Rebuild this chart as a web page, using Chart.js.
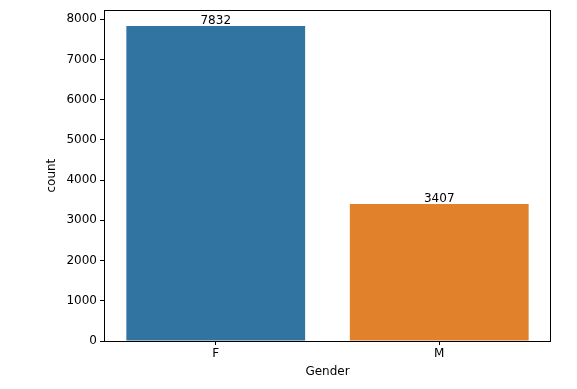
<!DOCTYPE html>
<html>
<head>
<meta charset="utf-8">
<script src="https://cdn.jsdelivr.net/npm/chart.js@4"></script>
<style>
  html, body { margin: 0; padding: 0; background: #fff; }
  canvas { display: block; }
</style>
</head>
<body>
<canvas id="myChart" width="577" height="389"></canvas>
<script>
Chart.defaults.color = '#000'
Chart.defaults.font.family = 'DejaVu Sans'
Chart.defaults.font.size = 12

var categories = ['F', 'M']
var counts = [7832, 3407]
var barColors = ['#3274a1', '#e1812c']
var yTicks = [0, 1000, 2000, 3000, 4000, 5000, 6000, 7000, 8000]

// seaborn pads the top by 5%
var yMax = Math.max(...counts) * 1.05

// box around the plot + count labels on bars
var framePlugin = {
    id: 'frame',
    afterDraw: (chart) => {
        let ctx = chart.ctx
        let a = chart.chartArea
        ctx.save()
        ctx.strokeStyle = '#000'
        ctx.lineWidth = 1
        ctx.strokeRect(Math.round(a.left) + 0.5, Math.round(a.top) + 0.5,
            Math.round(a.right - a.left) - 1, Math.round(a.bottom - a.top))
        ctx.font = '12px DejaVu Sans'
        ctx.fillStyle = '#000'
        ctx.textAlign = 'center'
        ctx.textBaseline = 'alphabetic'
        chart.getDatasetMeta(0).data.forEach((bar, i) => {
            ctx.fillText(String(counts[i]), bar.x, bar.y - 2)
        })
        ctx.restore()
    }
}

var chart = new Chart(document.getElementById('myChart'), {
    type: 'bar',
    data: {
        labels: categories,
        datasets: [
            {
                label: 'count',
                data: counts,
                backgroundColor: barColors,
                borderWidth: 0,
                barPercentage: 0.8,
                categoryPercentage: 1.0
            }
        ]
    },
    options: {
        responsive: false,
        animation: false,
        layout: { padding: { left: 0, right: 26, top: 8, bottom: 0 } },
        plugins: {
            legend: { display: false },
            tooltip: { enabled: false }
        },
        scales: {
            x: {
                grid: { drawOnChartArea: false, offset: false, color: '#000', tickLength: 4 },
                border: { display: false },
                ticks: { padding: 2, color: '#000' },
                title: { display: true, text: 'Gender', padding: { top: 0, bottom: 10 } },
                afterFit: (scale) => { scale.height = 48 }
            },
            y: {
                min: 0,
                max: yMax,
                grid: { drawOnChartArea: false, color: '#000', tickLength: 4 },
                border: { display: false },
                ticks: { padding: 3, color: '#000', callback: (v) => String(v) },
                afterBuildTicks: (scale) => { scale.ticks = yTicks.map(v => ({ value: v })) },
                title: { display: true, text: 'count', padding: { top: 45, bottom: 0 } },
                afterFit: (scale) => { scale.width = 104 }
            }
        }
    },
    plugins: [framePlugin]
})
</script>
</body>
</html>
